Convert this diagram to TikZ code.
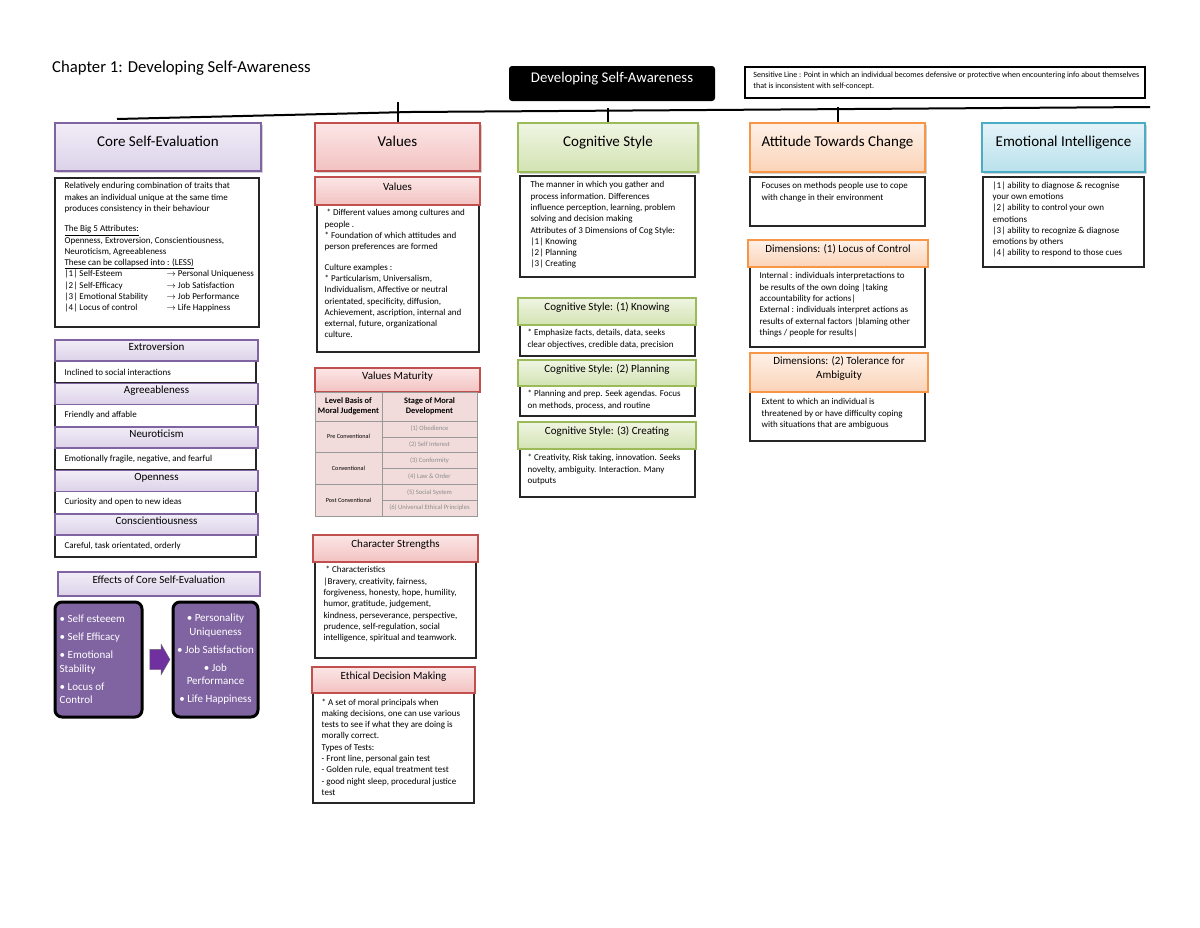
\documentclass[tikz,border=0pt]{standalone}
\usepackage{fontspec}
\setmainfont{Carlito}
\usepackage{tikz}
\usetikzlibrary{fit,shadows,shapes.arrows}
\definecolor{purc}{HTML}{8064A2}
\definecolor{purtop}{HTML}{F1EDF7}
\definecolor{purbot}{HTML}{DCD2E9}
\definecolor{redc}{HTML}{C0504D}
\definecolor{redtop}{HTML}{FCE6E6}
\definecolor{redbot}{HTML}{F2C2C1}
\definecolor{grnc}{HTML}{9BBB59}
\definecolor{grntop}{HTML}{EFF5E3}
\definecolor{grnbot}{HTML}{D3E3B2}
\definecolor{orgc}{HTML}{F79646}
\definecolor{orgtop}{HTML}{FEF1E8}
\definecolor{orgbot}{HTML}{FBD3B7}
\definecolor{bluc}{HTML}{4BACC6}
\definecolor{blutop}{HTML}{E4F3F8}
\definecolor{blubot}{HTML}{B9E1EC}
\definecolor{tabpink}{HTML}{F2DCDB}
\definecolor{effpur}{HTML}{8064A2}
\definecolor{arrpur}{HTML}{7030A0}
\tikzset{
  purfill/.style={draw=purc,top color=purtop,bottom color=purbot},
  redfill/.style={draw=redc,top color=redtop,bottom color=redbot},
  grnfill/.style={draw=grnc,top color=grntop,bottom color=grnbot},
  orgfill/.style={draw=orgc,top color=orgtop,bottom color=orgbot},
  blufill/.style={draw=bluc,top color=blutop,bottom color=blubot},
  hdr/.style={inner sep=0pt,line width=2pt,font=\fontsize{15}{17}\selectfont,
    drop shadow={shadow xshift=1.5pt,shadow yshift=-2pt,opacity=0.35}},
  sub/.style={inner sep=0pt,line width=1.6pt,align=center,font=\fontsize{11}{14}\selectfont},
  frame/.style={inner sep=0pt,draw=black!85,line width=1.2pt,fill=white},
  txt/.style={anchor=north west,inner sep=0pt,align=left,font=\fontsize{9}{11.3}\selectfont},
  trunk/.style={line width=2pt},
  effbox/.style={inner sep=0pt,fill=effpur,draw=black,line width=3pt,rounded corners=7pt},
  efftxt/.style={inner sep=0pt,text=white,font=\fontsize{11}{13.5}\selectfont},
  bigarr/.style={single arrow,fill=arrpur,draw=black!60,line width=0.4pt,inner xsep=0pt,inner ysep=10pt,
    minimum height=20pt,single arrow head extend=5pt,single arrow tip angle=120},
  tcell/.style={draw=black!40,line width=0.5pt,fill=tabpink,inner sep=0pt,align=center}
}
\begin{document}
\begin{tikzpicture}[x=1pt,y=-1pt]
\useasboundingbox[fill=white] (0,0) rectangle (1200,927);
\node[anchor=west,inner sep=0pt,font=\fontsize{16.7}{19}\selectfont] (title) at (52,68) {Chapter 1: Developing Self-Awareness};
\node[fit={(509,66) (715,101)},fill=black,rounded corners=3pt,inner sep=0pt,text=white,font=\fontsize{14.8}{17}\selectfont] (dsa) {Developing Self-Awareness};
\node[fit={(745,67) (1145,98)},draw,line width=1.5pt,inner sep=0pt] (sens) {};
\node[txt,font=\fontsize{8}{11}\selectfont] (senstxt) at ([shift={(9,5)}]sens.north west) {Sensitive Line : Point in which an individual becomes defensive or protective when encountering info about themselves\\that is inconsistent with self-concept.};

\coordinate (tl) at (117,119);
\coordinate (tm) at (410,112);
\coordinate (tr) at (1150,107);
\draw[trunk] (tl) -- (tm) -- (tr);

\node[hdr,purfill,fit={(55,123) (261,171)}] (corehdr) {Core Self-Evaluation};
\node[hdr,redfill,fit={(315,123) (480,171)}] (valhdr) {Values};
\node[hdr,grnfill,fit={(518,123) (698,172)}] (coghdr) {Cognitive Style};
\node[hdr,orgfill,fit={(750,123) (925,172)}] (atthdr) {Attitude Towards Change};
\node[hdr,blufill,fit={(982,123) (1145,172)}] (eihdr) {Emotional Intelligence};
\draw[trunk] (valhdr.north) -- ++(0,-20);
\draw[trunk] (coghdr.north) -- ++(0,-14);
\draw[trunk] (atthdr.north) -- ++(0,-15);

\node[frame,fit={(55,178) (259,327)}] (corebody) {};
\node[txt] (coretxt) at ([shift={(10,5)}]corebody.north west) {Relatively enduring combination of traits that\\makes an individual unique at the same time\\produces consistency in their behaviour\\[9pt]\underline{The Big 5 Attributes:}\\Openness, Extroversion, Conscientiousness,\\Neuroticism, Agreeableness\\\underline{These can be collapsed into : (LESS)}\\\makebox[102pt][l]{|1| Self-Esteem}$\rightarrow$ Personal Uniqueness\\\makebox[102pt][l]{|2| Self-Efficacy}$\rightarrow$ Job Satisfaction\\\makebox[102pt][l]{|3| Emotional Stability}$\rightarrow$ Job Performance\\\makebox[102pt][l]{|4| Locus of control}$\rightarrow$ Life Happiness};

\foreach \h/\b [count=\k from 0] in {Extroversion/Inclined to social interactions, Agreeableness/Friendly and affable, Neuroticism/{Emotionally fragile, negative, and fearful}, Openness/Curiosity and open to new ideas, Conscientiousness/{Careful, task orientated, orderly}}{
  \node[frame,fit={(55,361+43.5*\k) (256,383+43.5*\k)}] (tb\k) {};
  \node[sub,purfill,fit={(55,340+43.5*\k) (258,361+43.5*\k)}] (th\k) {\h};
  \node[txt,anchor=west] (tt\k) at ([xshift=10pt]tb\k.west) {\b};
}

\node[sub,purfill,fit={(58,572) (260,596)}] (effhdr) {Effects of Core Self-Evaluation};
\node[effbox,fit={(55,602) (142,717)}] (effl) {};
\node[effbox,fit={(173,602) (258,717)}] (effr) {};
\node[efftxt,anchor=west,align=left] (efflt) at ([xshift=6pt]effl.west) {• Self esteeem\\[4.5pt]• Self Efficacy\\[4.5pt]• Emotional\\Stability\\[4.5pt]• Locus of\\Control};
\node[efftxt,align=center] (effrt) at (effr.center) {• Personality\\Uniqueness\\[4.5pt]• Job Satisfaction\\[4.5pt]• Job\\Performance\\[4.5pt]• Life Happiness};
\node[bigarr] (effarr) at (barycentric cs:effl=1,effr=1) {};

\node[frame,fit={(317,205) (479,352)}] (valbody) {};
\node[sub,redfill,fit={(315,177) (480,205)}] (valsub) {Values};
\node[txt] (valtxt) at ([shift={(8,5)}]valbody.north west) {\hspace*{2pt}* Different values among cultures and\\people .\\* Foundation of which attitudes and\\person preferences are formed\\[9pt]Culture examples :\\* Particularism, Universalism,\\Individualism, Affective or neutral\\orientated, specificity, diffusion,\\Achievement, ascription, internal and\\external, future, organizational\\culture.};

\node[sub,redfill,fit={(315,368) (480,392)}] (vmhdr) {Values Maturity};
\node[tcell,minimum width=67pt,minimum height=29pt,font=\bfseries\fontsize{8.4}{9.8}\selectfont] (lvlh) at (348.5,406.5) {Level Basis of\\Moral Judgement};
\node[tcell,minimum width=95pt,minimum height=29pt,font=\bfseries\fontsize{8.4}{9.8}\selectfont] (stgh) at (429.5,406.5) {Stage of Moral\\Development};
\foreach \t [count=\i from 0] in {{Pre Conventional},{Conventional},{Post Conventional}}
  \node[tcell,minimum width=67pt,minimum height=31.67pt,font=\fontsize{6.2}{7}\selectfont] (lvl\i) at (348.5,{436.83+31.67*\i}) {\t};
\foreach \t [count=\i from 0] in {{(1) Obedience},{(2) Self Interest},{(3) Conformity},{(4) Law \& Order},{(5) Social System},{(6) Universal Ethical Principles}}
  \node[tcell,minimum width=95pt,minimum height=15.83pt,text=black!45,font=\fontsize{6.6}{7}\selectfont] (stg\i) at (429.5,{428.9+15.83*\i}) {\t};

\node[frame,fit={(315,562) (476,658)}] (csbody) {};
\node[sub,redfill,fit={(313,535) (478,562)}] (cshdr) {Character Strengths};
\node[txt] (cstxt) at ([shift={(9,5)}]csbody.north west) {\hspace*{2pt}* Characteristics\\|Bravery, creativity, fairness,\\forgiveness, honesty, hope, humility,\\humor, gratitude, judgement,\\kindness, perseverance, perspective,\\prudence, self-regulation, social\\intelligence, spiritual and teamwork.};

\node[frame,fit={(313,693) (474,803)}] (edbody) {};
\node[sub,redfill,fit={(312,667) (475,693)}] (edhdr) {Ethical Decision Making};
\node[txt] (edtxt) at ([shift={(9,6)}]edbody.north west) {* A set of moral principals when\\making decisions, one can use various\\tests to see if what they are doing is\\morally correct.\\Types of Tests:\\- Front line, personal gain test\\- Golden rule, equal treatment test\\- good night sleep, procedural justice\\test};

\node[frame,fit={(520,176) (695,277)}] (cogbody) {};
\node[txt] (cogtxt) at ([shift={(11,6)}]cogbody.north west) {The manner in which you gather and\\process information. Differences\\influence perception, learning, problem\\solving and decision making\\Attributes of 3 Dimensions of Cog Style:\\|1| Knowing\\|2| Planning\\|3| Creating};

\node[frame,fit={(520,325) (695,356)}] (knbody) {};
\node[sub,grnfill,fit={(518,298) (696,325)}] (knhdr) {Cognitive Style: (1) Knowing};
\node[txt] (kntxt) at ([shift={(8,5)}]knbody.north west) {* Emphasize facts, details, data, seeks\\clear objectives, credible data, precision};
\node[frame,fit={(520,386) (695,416)}] (plbody) {};
\node[sub,grnfill,fit={(518,360) (696,386)}] (plhdr) {Cognitive Style: (2) Planning};
\node[txt] (pltxt) at ([shift={(8,5)}]plbody.north west) {* Planning and prep. Seek agendas. Focus\\on methods, process, and routine};
\node[frame,fit={(520,449) (695,497)}] (crbody) {};
\node[sub,grnfill,fit={(518,422) (696,449)}] (crhdr) {Cognitive Style: (3) Creating};
\node[txt] (crtxt) at ([shift={(8,6)}]crbody.north west) {* Creativity, Risk taking, innovation. Seeks\\novelty, ambiguity. Interaction. Many\\outputs};

\node[frame,fit={(750,177) (925,226)}] (attbody) {};
\node[txt] (atttxt) at ([shift={(12,6)}]attbody.north west) {Focuses on methods people use to cope\\with change in their environment};
\node[frame,fit={(750,267) (925,347)}] (locbody) {};
\node[sub,orgfill,fit={(748,240) (928,267)}] (lochdr) {Dimensions: (1) Locus of Control};
\node[txt] (loctxt) at ([shift={(10,6)}]locbody.north west) {Internal : individuals interpretactions to\\be results of the own doing |taking\\accountability for actions|\\External : individuals interpret actions as\\results of external factors |blaming other\\things / people for results|};
\node[frame,fit={(750,392) (925,441)}] (tolbody) {};
\node[sub,orgfill,fit={(750,353) (928,392)}] (tolhdr) {Dimensions: (2) Tolerance for\\Ambiguity};
\node[txt] (toltxt) at ([shift={(12,7)}]tolbody.north west) {Extent to which an individual is\\threatened by or have difficulty coping\\with situations that are ambiguous};

\node[frame,fit={(983,177) (1144,267)}] (eibody) {};
\node[txt] (eitxt) at ([shift={(10,5)}]eibody.north west) {|1| ability to diagnose \& recognise\\your own emotions\\|2| ability to control your own\\emotions\\|3| ability to recognize \& diagnose\\emotions by others\\|4| ability to respond to those cues};
\end{tikzpicture}
\end{document}
